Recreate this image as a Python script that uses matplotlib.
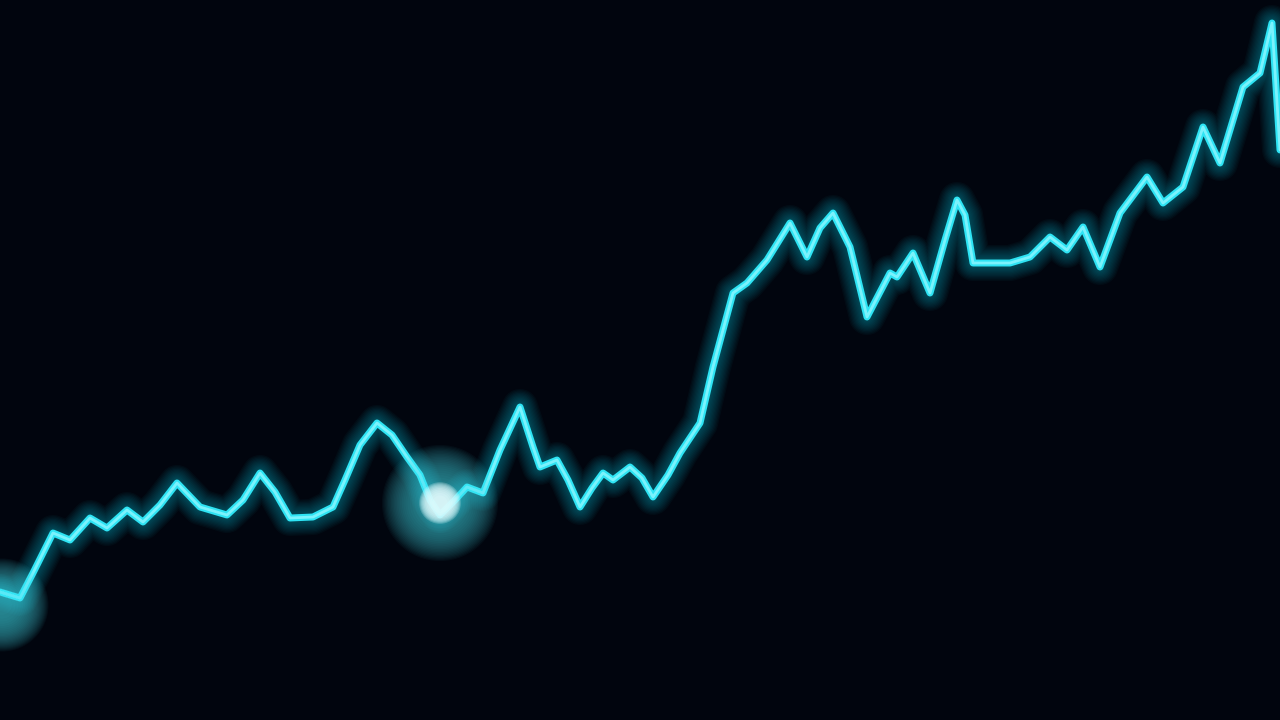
import matplotlib
matplotlib.use("Agg")
import matplotlib.pyplot as plt
import numpy as np

# Data (x position, value)
x = [0, 20, 33, 53, 70, 90, 107, 127, 143, 160, 177, 200, 227, 243, 260, 275, 290, 313, 333,
     345, 360, 377, 392, 407, 420, 430, 440, 455, 467, 483, 500, 520, 533, 540, 557, 568, 580,
     592, 603, 613, 630, 642, 653, 668, 680, 700, 713, 733, 747, 767, 790, 807, 820, 833, 850,
     867, 890, 897, 913, 930, 945, 957, 965, 973, 1010, 1030, 1050, 1067, 1083, 1100, 1120,
     1147, 1163, 1183, 1203, 1220, 1243, 1260, 1272, 1280]
y_px = [592, 598, 573, 533, 540, 518, 528, 510, 522, 505, 483, 507, 515, 500, 473, 492, 518, 517, 507,
        480, 445, 423, 435, 457, 475, 500, 515, 500, 487, 493, 450, 407, 447, 467, 460, 480, 507,
        488, 473, 480, 467, 478, 497, 475, 453, 423, 367, 293, 283, 260, 223, 257, 228, 213, 247,
        317, 273, 277, 253, 293, 240, 200, 215, 263, 263, 257, 237, 250, 227, 267, 213,
        177, 203, 187, 127, 163, 87, 73, 23, 150]
values = [720 - v for v in y_px]

glow_points = [(440, 720 - 503), (2, 720 - 605)]

fig = plt.figure(figsize=(12.8, 7.2), dpi=100)
fig.patch.set_facecolor("#01050e")
ax = fig.add_axes([0, 0, 1, 1])
ax.set_facecolor("#01050e")
ax.set_xlim(0, 1280)
ax.set_ylim(0, 720)
ax.axis("off")

# glow layers
for lw in np.linspace(26, 6, 12):
    ax.plot(x, values, color="#1ad0ea", lw=lw, alpha=0.035, solid_capstyle="round",
            solid_joinstyle="round")
ax.plot(x, values, color="#2ee4f4", lw=5, solid_capstyle="round", solid_joinstyle="round")
ax.plot(x, values, color="#8ff6ff", lw=2, alpha=0.8, solid_capstyle="round",
        solid_joinstyle="round")

# bright glow blobs
for (gx, gy), smax in zip(glow_points, [7000, 4500]):
    for s in np.linspace(smax, 200, 25):
        ax.scatter([gx], [gy], s=s, color="#4fe8f6", alpha=0.035, edgecolors="none", zorder=5)
for s in np.linspace(900, 120, 10):
    ax.scatter([glow_points[0][0]], [glow_points[0][1]], s=s, color="#e6fdff", alpha=0.22,
               edgecolors="none", zorder=6)

fig.savefig("out.png", dpi=100, facecolor=fig.get_facecolor())
